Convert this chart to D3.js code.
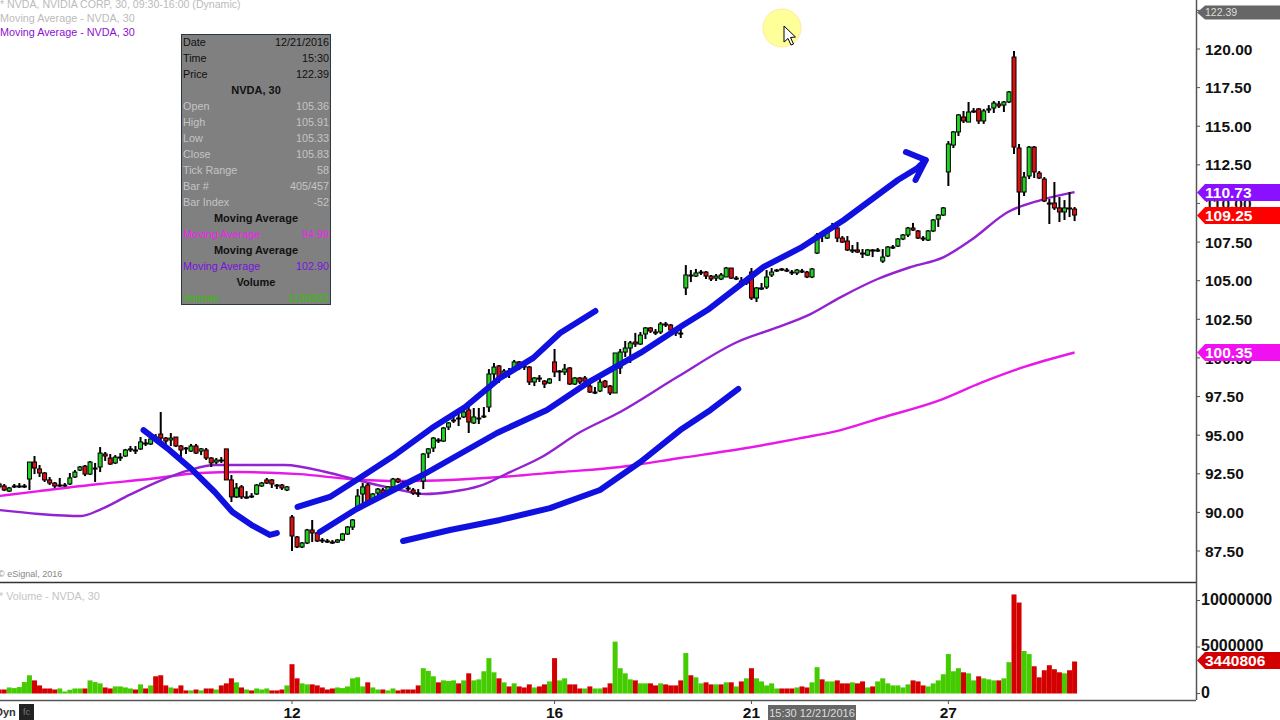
<!DOCTYPE html>
<html>
<head>
<meta charset="utf-8">
<script src="https://cdn.jsdelivr.net/npm/d3@7"></script>
<style>
html, body { margin: 0; padding: 0; background: #fff; overflow: hidden; }
svg { display: block; font-family: "Liberation Sans", Arial, sans-serif; }
</style>
</head>
<body>
<svg id="chart" width="1280" height="720"></svg>
<script>
// candle bodies and wicks, one entry per 30 minute bar
var bodyHigh = [91.84,91.71,91.58,91.71,91.71,91.71,93.26,93.26,92.81,92.55,
92.10,91.90,91.77,91.77,92.23,92.61,92.94,93.00,93.26,92.87,
93.84,93.78,93.52,93.58,93.58,94.04,94.11,94.04,94.56,94.49,
94.75,94.88,95.07,94.81,94.81,94.88,94.30,94.17,94.30,94.30,
94.11,94.04,93.52,93.39,93.39,94.11,92.10,91.58,91.65,91.00,
91.06,91.77,91.90,92.10,92.10,91.77,91.77,91.65,89.70,88.41,
88.02,88.86,88.86,88.67,88.21,88.15,88.08,88.21,88.60,89.05,
89.51,91.06,91.65,91.77,91.19,91.51,91.45,91.65,92.16,92.16,
91.90,91.58,91.45,91.25,93.78,94.11,94.81,94.69,95.46,95.79,
95.98,96.11,96.50,96.63,96.18,96.11,96.24,98.96,99.41,99.48,
99.15,99.09,99.74,99.74,99.48,99.41,98.70,98.70,98.50,98.63,
99.74,99.15,99.28,99.35,98.70,98.70,98.70,98.18,97.79,98.44,
98.50,98.18,100.32,100.38,100.64,100.97,101.03,101.48,101.94,101.94,
101.68,102.20,102.20,102.13,101.68,101.61,105.37,105.37,105.50,105.56,
105.56,105.30,105.30,105.37,105.82,105.82,105.17,104.98,105.04,105.56,
104.53,104.53,105.24,105.56,105.69,105.76,105.69,105.56,105.69,105.63,
105.56,105.76,107.96,107.96,108.22,108.48,108.41,107.76,107.57,106.99,
106.99,106.79,106.99,106.99,106.99,106.53,107.18,107.18,107.70,107.96,
108.41,108.41,108.22,107.76,108.22,108.93,109.25,109.71,113.85,114.63,
115.73,115.60,115.92,115.99,116.12,115.99,116.12,116.50,116.44,116.57,
117.22,119.48,113.59,111.71,113.65,113.65,111.97,111.58,110.03,110.03,
109.71,109.71,109.71,109.64];
var bodyLow = [91.65,91.45,91.38,91.65,91.65,91.65,92.16,92.87,92.55,92.10,
91.90,91.71,91.71,91.71,91.84,92.29,92.74,92.48,92.48,92.81,
92.94,93.65,93.13,93.20,93.52,93.65,94.04,93.97,94.11,94.43,
94.43,94.81,94.81,94.62,94.69,94.30,94.04,94.11,93.97,93.84,
93.97,93.52,93.20,93.26,93.33,92.10,91.00,91.00,91.00,90.93,
91.00,91.19,91.71,91.90,91.84,91.71,91.58,91.45,88.47,87.76,
87.76,88.02,88.67,88.15,88.15,88.08,88.02,88.08,88.21,88.60,
89.05,90.15,91.19,90.67,90.80,91.25,91.25,91.38,91.65,91.97,
91.84,91.51,91.25,91.19,92.03,93.84,94.17,94.62,94.62,95.53,
95.92,96.05,96.18,95.85,95.79,96.05,96.18,96.82,98.96,98.76,
98.76,99.02,99.22,99.54,99.41,98.44,98.44,98.63,98.31,98.38,
99.09,99.09,99.09,98.31,98.31,98.44,98.50,97.79,97.73,97.86,
98.12,97.73,97.73,99.35,100.38,100.64,100.90,100.90,101.55,101.74,
101.61,101.68,102.13,101.81,101.61,101.55,104.53,105.30,105.30,105.50,
105.30,105.11,105.17,105.11,105.24,105.17,105.11,104.91,104.85,103.88,
103.88,104.46,104.59,105.37,105.63,105.69,105.63,105.50,105.50,105.56,
105.24,105.24,106.79,107.89,107.76,108.41,107.76,107.50,106.99,106.92,
106.86,106.73,106.66,106.92,106.92,106.27,106.60,107.12,107.24,107.70,
107.96,108.28,107.76,107.70,107.63,108.22,108.99,109.25,112.04,113.78,
114.63,115.34,115.27,115.92,115.34,115.34,116.05,116.18,116.31,116.37,
116.57,113.65,110.74,110.74,111.78,112.04,111.65,110.16,109.96,109.71,
109.45,109.45,109.64,109.25];
var wickHigh = [91.97,91.84,91.65,91.84,91.90,91.84,93.26,93.65,93.07,92.61,
92.29,91.97,92.23,91.90,92.55,92.74,93.00,93.07,93.33,93.20,
94.23,93.91,93.78,93.71,93.84,94.11,94.30,94.30,94.88,94.75,
94.88,95.07,96.50,94.88,95.14,94.88,94.36,94.23,94.43,94.43,
94.17,94.17,93.58,93.52,93.58,94.11,92.42,91.90,91.77,91.38,
91.25,91.84,91.97,92.23,92.16,91.84,91.84,91.71,89.83,88.47,
88.08,88.93,89.51,88.73,88.34,88.28,88.21,88.28,88.67,89.12,
89.57,91.51,91.90,91.90,91.25,91.58,91.58,91.71,92.23,92.23,
92.03,91.71,91.58,91.51,93.84,94.17,94.88,94.81,95.53,95.85,
96.43,96.43,96.95,96.95,96.76,96.76,96.82,99.28,99.67,99.54,
99.28,99.35,99.87,99.80,99.67,99.48,98.76,98.89,98.57,98.70,
100.58,99.22,99.61,99.41,98.76,98.76,98.83,98.37,98.12,98.63,
98.57,98.25,100.32,100.58,101.10,101.10,101.62,101.68,102.00,102.00,
101.87,102.33,102.33,102.20,101.94,102.00,106.01,105.69,105.76,105.69,
105.62,105.37,105.43,105.50,105.89,105.82,105.30,105.24,105.11,105.82,
104.59,104.85,105.69,105.82,105.76,105.82,105.82,105.69,105.76,105.76,
105.63,105.82,108.09,108.15,108.28,108.74,108.48,107.89,107.89,107.31,
107.50,107.05,107.05,107.05,107.12,107.05,107.24,107.31,107.76,108.02,
108.48,108.74,108.28,107.89,108.28,108.99,109.32,109.77,114.04,114.69,
115.79,115.99,116.57,116.18,116.18,116.12,116.37,116.63,116.63,116.63,
117.28,119.87,113.85,112.04,113.72,113.72,112.10,111.71,110.29,111.39,
110.42,110.22,110.74,109.77];
var wickLow = [91.51,91.38,91.32,91.58,91.58,91.58,91.45,92.48,92.29,91.97,
91.77,91.58,91.65,91.65,91.77,92.23,92.68,92.35,92.42,91.97,
92.61,93.33,93.07,93.13,93.33,93.58,93.91,93.78,94.04,94.30,
94.36,94.62,94.43,94.36,94.30,94.23,93.58,93.78,93.91,93.78,
93.71,93.39,92.94,93.13,93.20,92.10,90.67,90.93,90.87,90.87,
90.93,91.13,91.65,91.84,91.58,91.51,91.45,91.38,87.50,87.69,
87.69,87.95,88.08,88.08,88.02,88.02,87.95,88.02,88.15,88.54,
88.86,90.09,90.61,90.61,90.74,91.13,91.19,91.32,91.58,91.90,
91.71,91.38,91.13,91.00,91.51,93.52,93.91,94.49,94.56,95.33,
95.79,95.59,96.11,95.14,95.72,95.72,96.11,96.50,98.31,98.38,
98.70,98.70,99.15,99.22,99.22,98.25,98.18,98.44,98.05,98.31,
98.76,98.50,98.89,98.25,98.25,98.31,98.25,97.73,97.66,97.79,
98.05,97.60,97.73,98.96,100.06,99.67,100.71,100.84,101.22,101.61,
101.48,101.55,102.00,101.68,101.42,101.29,104.07,104.91,105.24,105.37,
105.11,104.98,104.98,105.04,105.24,105.11,105.04,104.85,104.72,103.75,
103.62,104.40,104.46,105.24,105.56,105.63,105.56,105.37,105.37,105.50,
105.17,105.17,106.73,107.50,107.70,108.28,107.50,107.44,106.92,106.79,
106.79,106.47,106.60,106.53,106.86,106.15,106.53,107.05,107.18,107.63,
107.83,108.22,107.70,107.57,107.57,108.15,108.48,109.19,111.13,113.59,
114.37,115.21,115.27,115.86,115.15,115.15,115.86,115.86,116.18,115.92,
116.50,113.20,109.25,110.48,111.58,111.65,111.58,110.09,108.67,109.58,
108.80,108.93,109.12,108.86];
var candleDir = "rrggrggrrr" + "rrgggggrgg" + "grrggggrgr" + "grrrgrrrgr" + "grrgrrrgrg" +
  "rggrrrrgrr" + "ggrrgrrggg" + "gggrggrggr" + "rrrrgggrgg" + "grgrgggggr" +
  "grgrrrgrrg" + "rggrgrrrrg" + "rrggggrggr" + "rgrrrrgggg" + "rrgggrrrrr" +
  "gggggrrrgr" + "rggrggrrrg" + "rrgrgggggg" + "grrrgggggg" + "grggrgggrg" +
  "grrggrrrrr" + "rgrr";

// volume in millions of shares
var volumes = [.43,.43,.65,.58,.69,1.23,1.96,1.41,.87,.54,
.54,.43,.54,.22,.40,.54,.54,.54,1.41,1.23,
1.09,.65,.54,.76,.76,.65,.54,.43,.98,.54,
.87,1.85,1.96,.87,.65,.54,.87,.33,.33,.43,
.33,.54,.54,.43,.87,1.09,1.63,1.20,.65,.43,
.33,.54,.43,.54,.33,.33,.43,.87,3.15,1.63,
1.09,.98,.98,.87,.65,.43,.54,.65,.58,.76,
1.63,1.74,.76,1.20,.65,.43,.43,.33,.54,.33,
.43,.43,.43,.87,2.72,2.43,1.85,1.20,1.41,1.34,
1.41,1.09,1.41,2.17,1.41,1.52,2.39,3.80,2.28,1.63,
1.20,.76,1.09,.76,.65,.98,.65,.76,.98,1.30,
3.80,1.41,1.63,.98,.98,.54,.54,.76,.54,.54,
.65,1.09,5.58,2.72,2.17,1.52,1.41,1.09,1.09,1.09,
.87,1.09,.98,.87,.87,1.41,4.35,1.96,1.74,1.09,
1.20,.98,.98,.98,1.20,1.20,.76,1.30,1.63,2.72,
1.63,1.30,.87,1.09,.54,.54,.54,.54,.65,.76,
.65,1.20,2.83,1.52,1.30,1.30,1.41,1.09,1.09,1.20,
1.09,1.30,.65,.76,1.30,1.63,1.09,.87,.87,.65,
.98,1.41,1.30,.87,.76,1.09,1.41,2.07,4.24,2.39,
2.72,2.28,2.17,1.41,1.85,1.63,1.52,1.41,1.41,1.63,
3.37,10.65,9.78,4.57,4.24,2.93,1.74,2.50,3.04,2.61,
2.28,2.17,2.50,3.440806];
var volumeDir = "rrgggggrrr" + "rrgggggrgg" + "grrggggrgr" + "grrrgrrrgr" + "grrgrrrgrg" +
  "rgggrrrgrr" + "ggrrrrrggg" + "gggrggrggr" + "rrrrgggrgg" + "grgrgggggr" +
  "grgrrrgrrg" + "rggrrrgrgg" + "rrggggrggr" + "rgrrrrgrgg" + "rrgrgrgrgr" +
  "gggggrrrgr" + "rggrggrrrg" + "rrgrgggggg" + "grrrgggggg" + "grggrgggrg" +
  "grrggrrrrr" + "rgrr";

// moving averages, read as [bar, price]
var maPurple = [[0,90.15],[7.9,89.90],[16.3,89.77],[19.8,90.15],[25.8,91.13],[31.7,92.03],[37.7,92.74],[42.7,93.07],
[56.5,93.07],[65.5,92.55],[72.4,91.97],[79.4,91.45],[84.3,91.19],[89.3,91.32],[95.2,91.71],[101.2,92.61],
[107.1,93.52],[115.1,95.20],[123,96.50],[134.3,98.76],[146.2,101.03],[153.8,101.94],[160.7,102.84],[166.7,103.94],
[174,105.11],[180.6,105.89],[187.1,106.53],[192.5,107.63],[199.8,109.45],[206.3,110.22],[213,110.73]];
var maMagenta = [[0,91.06],[7.9,91.38],[19.8,91.84],[29.8,92.16],[39.7,92.55],[47.6,92.61],[59.5,92.48],[69.4,92.16],
[79.4,92.03],[89.3,92.10],[99.2,92.29],[111.1,92.61],[123,92.94],[134.9,93.52],[146.8,94.10],[158.7,94.81],
[166.7,95.33],[174.6,96.11],[186.5,97.28],[194.4,98.38],[202.4,99.35],[213,100.35]];

// hand drawn pen strokes on the chart, also [bar, price]
var penStrokes = [
  [[28.6,95.33],[33.7,94.04],[38.3,92.74],[42.7,91.32],[46.2,90.02],[50,89.18],[53.6,88.54],[55,88.66]],
  [[59.1,90.35],[65.5,91.00],[71.4,92.23],[78.4,93.72],[85.7,95.46],[92.3,96.82],[99.2,98.70],[105.8,100.00],[111.1,101.61],[118.1,103.04]],
  [[63.5,88.73],[70.8,90.22],[83.9,92.42],[98.6,95.14],[108.5,96.63],[116.5,98.38],[127,100.32],[135.5,102.13],[140.3,103.10],
   [151.4,105.89],[158.7,107.12],[167.3,108.93],[178,111.52],[181.9,112.30],[183.5,112.81]],
  [[179.6,113.33],[183.5,112.81],[181.5,111.52]],
  [[80,88.15],[89.3,88.86],[99.2,89.51],[109.1,90.28],[119,91.45],[127,93.26],[134.9,95.33],[140.9,96.63],[146.4,97.99]]
];

var priceTicks = [122.5,120,117.5,115,112.5,110,107.5,105,102.5,100,97.5,95,92.5,90,87.5];
var volumeTicks = [0,5,10];
var dateBars = [58,110,149,188];
var dateLabels = ["12","16","21","27"];

var panelRows = [
  ["Date","12/21/2016","#111"],["Time","15:30","#111"],["Price","122.39","#111"],["NVDA, 30","","head"],
  ["Open","105.36","#c4c4c4"],["High","105.91","#c4c4c4"],["Low","105.33","#c4c4c4"],["Close","105.83","#c4c4c4"],
  ["Tick Range","58","#c4c4c4"],["Bar #","405/457","#c4c4c4"],["Bar Index","-52","#c4c4c4"],
  ["Moving Average","","head"],["Moving Average","94.99","#f020f0"],
  ["Moving Average","","head"],["Moving Average","102.90","#7a10e0"],
  ["Volume","","head"],["Volume","1138902","#33c000"]
];

var GREEN = "#22d022", RED = "#dc1010", VOL_GREEN = "#44cc00", VOL_RED = "#d40000";
var AXIS = "#555";

var svg = d3.select("#chart");
var x = d3.scaleLinear().domain([58, 201]).range([292, 1014]);
var y = d3.scaleLinear().domain([87.5, 120]).range([551, 49]);
var yVol = d3.scaleLinear().domain([0, 10]).range([693.5, 600.5]);
var bars = d3.range(bodyHigh.length);

// frame
svg.append("line").attr("x1", 1196.5).attr("x2", 1196.5).attr("y1", 0).attr("y2", 700).attr("stroke", AXIS).attr("stroke-width", 1.5);
svg.append("line").attr("x1", 0).attr("x2", 1196).attr("y1", 582.5).attr("y2", 582.5).attr("stroke", "#333").attr("stroke-width", 1.5);
svg.append("line").attr("x1", 0).attr("x2", 1196).attr("y1", 700.5).attr("y2", 700.5).attr("stroke", AXIS).attr("stroke-width", 1.5);

// price axis
var priceAxis = svg.append("g").selectAll("g").data(priceTicks).join("g")
  .attr("transform", function(d) { return "translate(1197," + y(d) + ")"; });
priceAxis.append("line").attr("x1", 0).attr("x2", 3).attr("stroke", AXIS);
priceAxis.append("text").attr("x", 8).attr("dy", "0.36em")
  .attr("font-size", 15.5).attr("font-weight", "bold").attr("fill", "#111")
  .text(function(d) { return d.toFixed(2); });

// volume axis
var volumeAxis = svg.append("g").selectAll("g").data(volumeTicks).join("g")
  .attr("transform", function(d) { return "translate(1197," + yVol(d) + ")"; });
volumeAxis.append("line").attr("x1", 0).attr("x2", 3).attr("stroke", AXIS);
volumeAxis.append("text").attr("x", 4).attr("dy", "0.28em")
  .attr("font-size", 16).attr("font-weight", "bold").attr("fill", "#111")
  .text(function(d) { return d3.format("d")(d * 1000000); });

// date axis
dateBars.forEach(function(b, i) {
  svg.append("line").attr("x1", x(b)).attr("x2", x(b)).attr("y1", 700).attr("y2", 704).attr("stroke", AXIS);
  svg.append("text").attr("x", x(b)).attr("y", 716).attr("dy", "0.16em").attr("text-anchor", "middle")
    .attr("font-size", 15.5).attr("font-weight", "bold").attr("fill", "#111").text(dateLabels[i]);
});

// moving averages
var line = d3.line().x(function(d) { return x(d[0]); }).y(function(d) { return y(d[1]); }).curve(d3.curveMonotoneX);
svg.append("path").attr("d", line(maMagenta)).attr("fill", "none").attr("stroke", "#e818e8").attr("stroke-width", 2.4);
svg.append("path").attr("d", line(maPurple)).attr("fill", "none").attr("stroke", "#9322d2").attr("stroke-width", 2.4);

// candles
var candle = svg.append("g").selectAll("g").data(bars).join("g");
candle.append("line")
  .attr("x1", function(i) { return x(i); }).attr("x2", function(i) { return x(i); })
  .attr("y1", function(i) { return y(wickHigh[i]); }).attr("y2", function(i) { return y(wickLow[i]); })
  .attr("stroke", "#000").attr("stroke-width", 2);
candle.append("rect")
  .attr("x", function(i) { return x(i) - 2; }).attr("width", 4)
  .attr("y", function(i) { return y(bodyHigh[i]); })
  .attr("height", function(i) { return Math.max(1, y(bodyLow[i]) - y(bodyHigh[i])); })
  .attr("fill", function(i) { return candleDir[i] == "g" ? GREEN : RED; })
  .attr("stroke", "#000").attr("stroke-width", 1);

// volume bars
svg.append("g").selectAll("rect").data(bars).join("rect")
  .attr("x", function(i) { return x(i) - 2.5; }).attr("width", 5)
  .attr("y", function(i) { return yVol(volumes[i]); })
  .attr("height", function(i) { return yVol(0) - yVol(volumes[i]); })
  .attr("fill", function(i) { return volumeDir[i] == "g" ? VOL_GREEN : VOL_RED; });

// pen strokes
var penLine = d3.line().x(function(d) { return x(d[0]); }).y(function(d) { return y(d[1]); });
penStrokes.forEach(function(s) {
  svg.append("path").attr("d", penLine(s)).attr("fill", "none").attr("stroke", "#1010e0")
    .attr("stroke-width", 6).attr("stroke-linecap", "round").attr("stroke-linejoin", "round");
});

// value badges on the right
var badge = function(yPos, h, color, label, size, weight, textColor) {
  svg.append("path")
    .attr("d", "M1197," + yPos + "L1205," + (yPos - h / 2) + "H1280V" + (yPos + h / 2) + "H1205Z")
    .attr("fill", color);
  svg.append("text").attr("x", 1205).attr("y", yPos).attr("dy", "0.36em")
    .attr("font-size", size).attr("font-weight", weight).attr("fill", textColor).text(label);
};
badge(12.5, 14, "#666", "122.39", 10.5, "normal", "#ddd");
badge(192.5, 17, "#8a10ff", "110.73", 15.5, "bold", "#fff");
badge(215.5, 17, "#ff0000", "109.25", 15.5, "bold", "#fff");
badge(352.5, 17, "#f010f0", "100.35", 15.5, "bold", "#fff");
badge(660.5, 17, "#d40000", "3440806", 15.5, "bold", "#fff");

// titles
var titles = [
  ["* NVDA, NVIDIA CORP, 30, 09:30-16:00 (Dynamic)", 4.5, "#bbb", 10.6],
  ["Moving Average - NVDA, 30", 18.5, "#bbb", 10.8],
  ["Moving Average - NVDA, 30", 32.5, "#8a10d0", 10.8]
];
titles.forEach(function(t) {
  svg.append("text").attr("x", 0).attr("y", t[1]).attr("dy", "0.36em")
    .attr("font-size", t[3]).attr("fill", t[2]).text(t[0]);
});
svg.append("text").attr("x", -2).attr("y", 574).attr("dy", "0.36em").attr("font-size", 9).attr("fill", "#888").text("© eSignal, 2016");
svg.append("text").attr("x", -1).attr("y", 596).attr("dy", "0.36em").attr("font-size", 10.8).attr("fill", "#c4c4c4").text("* Volume - NVDA, 30");

// bottom bar bits
svg.append("text").attr("x", -5).attr("y", 712).attr("dy", "0.36em").attr("font-size", 11).attr("font-weight", "bold").attr("fill", "#333").text("Dyn");
svg.append("rect").attr("x", 19).attr("y", 704).attr("width", 15).attr("height", 16).attr("fill", "#222");
svg.append("text").attr("x", 26.5).attr("y", 712).attr("dy", "0.36em").attr("text-anchor", "middle").attr("font-size", 9).attr("fill", "#777").text("fc");
svg.append("rect").attr("x", 768).attr("y", 705).attr("width", 88).attr("height", 15).attr("fill", "#666");
svg.append("text").attr("x", 812).attr("y", 713).attr("dy", "0.36em").attr("text-anchor", "middle").attr("font-size", 11).attr("fill", "#ddd").text("15:30 12/21/2016");

// info panel
svg.append("rect").attr("x", 181.5).attr("y", 34.5).attr("width", 149).attr("height", 270)
  .attr("fill", "#808080").attr("stroke", "#2b3a42");
panelRows.forEach(function(r, i) {
  var rowY = 42 + i * 16;
  if (r[2] == "head") {
    svg.append("text").attr("x", 256).attr("y", rowY).attr("dy", "0.36em").attr("text-anchor", "middle")
      .attr("font-size", 11).attr("font-weight", "bold").attr("fill", "#111").text(r[0]);
  } else {
    svg.append("text").attr("x", 183).attr("y", rowY).attr("dy", "0.36em").attr("font-size", 10.8).attr("fill", r[2]).text(r[0]);
    svg.append("text").attr("x", 329).attr("y", rowY).attr("dy", "0.36em").attr("text-anchor", "end").attr("font-size", 10.8).attr("fill", r[2]).text(r[1]);
  }
});

// mouse highlight and pointer from the screen recording
svg.append("circle").attr("cx", 782).attr("cy", 28).attr("r", 19).attr("fill", "#ffff99").attr("stroke", "#ffe9a0").attr("stroke-width", 1);
svg.append("path")
  .attr("d", "M784,26 v16 l4,-3.5 l3,6.5 l2.5,-1 l-3,-6.5 l5,-0.5 Z")
  .attr("fill", "#fff").attr("stroke", "#000").attr("stroke-width", 1);
</script>
</body>
</html>
